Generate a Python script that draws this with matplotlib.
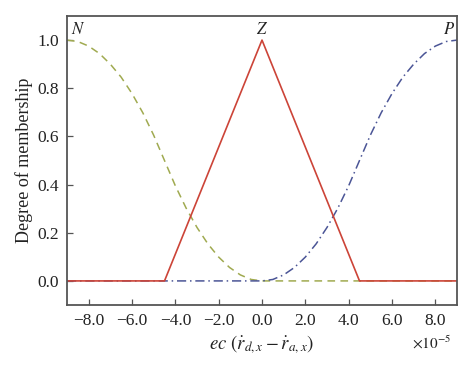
import matplotlib
matplotlib.use("Agg")
import matplotlib.pyplot as plt

# membership values (x in units of 1e-5)
X_N = [-9.0, -8.5, -8.0, -7.5, -7.0, -6.5, -6.0, -5.5, -5.0, -4.5, -4.0, -3.5,
       -3.0, -2.5, -2.0, -1.5, -1.0, -0.5, 0.0, 9.0]
MU_N = [1.0, 0.994, 0.975, 0.944, 0.90, 0.846, 0.778, 0.698, 0.605, 0.50, 0.395,
        0.302, 0.222, 0.154, 0.099, 0.056, 0.025, 0.006, 0.0, 0.0]
X_P = [-9.0, 0.0, 0.5, 1.0, 1.5, 2.0, 2.5, 3.0, 3.5, 4.0, 4.5, 5.0, 5.5, 6.0,
       6.5, 7.0, 7.5, 8.0, 8.5, 9.0]
MU_P = [0.0, 0.0, 0.006, 0.025, 0.056, 0.099, 0.154, 0.222, 0.302, 0.395, 0.50,
        0.605, 0.698, 0.778, 0.846, 0.90, 0.944, 0.975, 0.994, 1.0]
X_Z = [-9.0, -4.5, 0.0, 4.5, 9.0]
MU_Z = [0.0, 0.0, 1.0, 0.0, 0.0]

XTICKS = [-8.0, -6.0, -4.0, -2.0, 0.0, 2.0, 4.0, 6.0, 8.0]
YTICKS = [0.0, 0.2, 0.4, 0.6, 0.8, 1.0]

plt.rcParams["font.family"] = ["Liberation Serif", "DejaVu Serif"]
plt.rcParams["mathtext.fontset"] = "stix"

fig = plt.figure(figsize=(4.74, 3.70), dpi=100)
ax = fig.add_axes([67 / 474, 65 / 370, 390 / 474, 289 / 370])

ax.plot(X_N, MU_N, ls=(0, (5, 3.5)), color="#a0aa50", lw=1.1)
ax.plot(X_P, MU_P, ls=(0, (6, 2.5, 1, 2.5)), color="#4b5596", lw=1.1)
ax.plot(X_Z, MU_Z, "-", color="#cc4438", lw=1.2)

ax.text(-8.5, 1.04, "$N$", ha="center", va="center", fontsize=12, color="#222")
ax.text(0.0, 1.04, "$Z$", ha="center", va="center", fontsize=12, color="#222")
ax.text(8.65, 1.04, "$P$", ha="center", va="center", fontsize=12, color="#222")

ax.set_xlim(-9, 9)
ax.set_ylim(-0.1, 1.1)
ax.set_xticks(XTICKS)
ax.set_xticklabels([f"{v:.1f}".replace("-", "\u2212") for v in XTICKS])
ax.set_yticks(YTICKS)
ax.set_yticklabels([f"{v:.1f}" for v in YTICKS])
ax.tick_params(direction="in", length=4, width=0.9, color="#555",
               labelsize=12.5, labelcolor="#222", pad=6)
for s in ax.spines.values():
    s.set_color("#555")
    s.set_linewidth(1.3)

ax.set_ylabel("Degree of membership", fontsize=13, color="#222", labelpad=3)
ax.set_xlabel(r"$ec\ (\dot{r}_{d,x} - \dot{r}_{a,x})$", fontsize=13.5,
              color="#222", labelpad=3)
ax.text(0.985, -0.131, r"$\times10^{-5}$", transform=ax.transAxes,
        ha="right", va="center", fontsize=11, color="#222")

fig.savefig("out.png", dpi=100, facecolor="white")
